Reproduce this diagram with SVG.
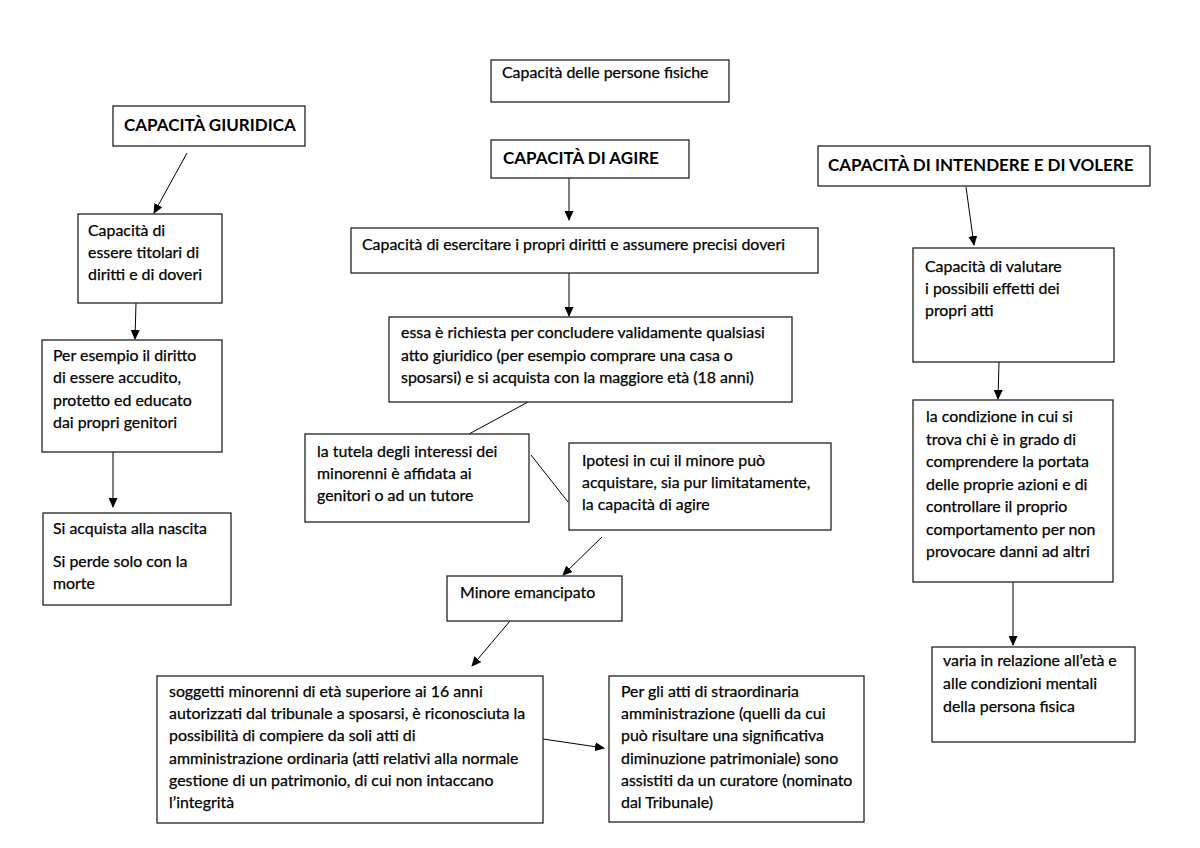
<svg xmlns="http://www.w3.org/2000/svg" width="1200" height="848" viewBox="0 0 1200 848">
<style>
.box{fill:#fff;stroke:#222;stroke-width:1.3}
.t{font-family:Lato,"Liberation Sans",sans-serif;font-size:15.9px;fill:#000;stroke:#000;stroke-width:0.25}
.h{font-family:Lato,"Liberation Sans",sans-serif;font-size:17px;font-weight:bold;fill:#000}
.c{stroke:#000;stroke-width:1;fill:none}
.a{marker-end:url(#ah)}
</style>
<defs>
<marker id="ah" markerWidth="10" markerHeight="9" refX="9" refY="4.5" orient="auto" markerUnits="userSpaceOnUse">
<path d="M0,0 L10,4.5 L0,9 z" fill="#000"/>
</marker>
</defs>
<rect width="1200" height="848" fill="#fff"/>
<g id="connectors">
<line class="c a" x1="187" y1="153" x2="154" y2="213"/>
<line class="c a" x1="136" y1="303" x2="135" y2="339"/>
<line class="c a" x1="113" y1="452" x2="113" y2="507"/>
<line class="c a" x1="569" y1="178" x2="569" y2="220"/>
<line class="c a" x1="569" y1="273" x2="569" y2="316"/>
<line class="c" x1="528" y1="402" x2="469" y2="434"/>
<line class="c" x1="531" y1="455" x2="568" y2="502"/>
<line class="c a" x1="602" y1="537" x2="563" y2="575"/>
<line class="c a" x1="510" y1="621" x2="472" y2="666"/>
<line class="c a" x1="543" y1="739" x2="604" y2="748"/>
<line class="c a" x1="966" y1="187" x2="974" y2="245"/>
<line class="c a" x1="999" y1="362" x2="998" y2="399"/>
<line class="c a" x1="1013" y1="582" x2="1013" y2="645"/>
</g>
<g id="n-persone">
<rect class="box" x="491" y="60" width="238" height="42"/>
<text class="t" x="502" y="78">Capacità delle persone fisiche</text>
</g>
<g id="n-giuridica">
<rect class="box" x="113" y="106" width="192" height="40"/>
<text class="h" x="124" y="131">CAPACITÀ GIURIDICA</text>
</g>
<g id="n-agire">
<rect class="box" x="491" y="140" width="198" height="38"/>
<text class="h" x="503" y="164">CAPACITÀ DI AGIRE</text>
</g>
<g id="n-intendere">
<rect class="box" x="818" y="146" width="332" height="40"/>
<text class="h" x="828" y="171">CAPACITÀ DI INTENDERE E DI VOLERE</text>
</g>
<g id="n-titolari">
<rect class="box" x="78" y="214" width="144" height="89"/>
<text class="t" x="88" y="236">Capacità di</text>
<text class="t" x="88" y="258">essere titolari di</text>
<text class="t" x="88" y="280">diritti e di doveri</text>
</g>
<g id="n-esempio">
<rect class="box" x="42" y="340" width="180" height="112"/>
<text class="t" x="53" y="361">Per esempio il diritto</text>
<text class="t" x="53" y="383">di essere accudito,</text>
<text class="t" x="53" y="406">protetto ed educato</text>
<text class="t" x="53" y="428">dai propri genitori</text>
</g>
<g id="n-nascita">
<rect class="box" x="43" y="513" width="188" height="92"/>
<text class="t" x="53" y="534">Si acquista alla nascita</text>
<text class="t" x="53" y="567">Si perde solo con la</text>
<text class="t" x="53" y="589">morte</text>
</g>
<g id="n-esercitare">
<rect class="box" x="351" y="228" width="467" height="45"/>
<text class="t" x="362" y="250">Capacità di esercitare i propri diritti e assumere precisi doveri</text>
</g>
<g id="n-essa">
<rect class="box" x="389" y="317" width="403" height="85"/>
<text class="t" x="401" y="338">essa è richiesta per concludere validamente qualsiasi</text>
<text class="t" x="401" y="361">atto giuridico (per esempio comprare una casa o</text>
<text class="t" x="401" y="383">sposarsi) e si acquista con la maggiore età (18 anni)</text>
</g>
<g id="n-tutela">
<rect class="box" x="305" y="434" width="224" height="88"/>
<text class="t" x="317" y="457">la tutela degli interessi dei</text>
<text class="t" x="317" y="479">minorenni è affidata ai</text>
<text class="t" x="317" y="501">genitori o ad un tutore</text>
</g>
<g id="n-ipotesi">
<rect class="box" x="569" y="443" width="262" height="87"/>
<text class="t" x="582" y="466">Ipotesi in cui il minore può</text>
<text class="t" x="582" y="488">acquistare, sia pur limitatamente,</text>
<text class="t" x="582" y="510">la capacità di agire</text>
</g>
<g id="n-minore">
<rect class="box" x="447" y="576" width="175" height="45"/>
<text class="t" x="460" y="598">Minore emancipato</text>
</g>
<g id="n-soggetti">
<rect class="box" x="157" y="676" width="386" height="147"/>
<text class="t" x="169" y="697">soggetti minorenni di età superiore ai 16 anni</text>
<text class="t" x="169" y="719">autorizzati dal tribunale a sposarsi, è riconosciuta la</text>
<text class="t" x="169" y="741">possibilità di compiere da soli atti di</text>
<text class="t" x="169" y="764">amministrazione ordinaria (atti relativi alla normale</text>
<text class="t" x="169" y="786">gestione di un patrimonio, di cui non intaccano</text>
<text class="t" x="169" y="808">l’integrità</text>
</g>
<g id="n-straordinaria">
<rect class="box" x="609" y="676" width="255" height="146"/>
<text class="t" x="621" y="697">Per gli atti di straordinaria</text>
<text class="t" x="621" y="719">amministrazione (quelli da cui</text>
<text class="t" x="621" y="741">può risultare una significativa</text>
<text class="t" x="621" y="764">diminuzione patrimoniale) sono</text>
<text class="t" x="621" y="786">assistiti da un curatore (nominato</text>
<text class="t" x="621" y="808">dal Tribunale)</text>
</g>
<g id="n-valutare">
<rect class="box" x="913" y="248" width="201" height="114"/>
<text class="t" x="925" y="272">Capacità di valutare</text>
<text class="t" x="925" y="294">i possibili effetti dei</text>
<text class="t" x="925" y="316">propri atti</text>
</g>
<g id="n-condizione">
<rect class="box" x="913" y="400" width="200" height="182"/>
<text class="t" x="926" y="422">la condizione in cui si</text>
<text class="t" x="926" y="445">trova chi è in grado di</text>
<text class="t" x="926" y="467">comprendere la portata</text>
<text class="t" x="926" y="490">delle proprie azioni e di</text>
<text class="t" x="926" y="512">controllare il proprio</text>
<text class="t" x="926" y="535">comportamento per non</text>
<text class="t" x="926" y="557">provocare danni ad altri</text>
</g>
<g id="n-varia">
<rect class="box" x="932" y="647" width="203" height="95"/>
<text class="t" x="943" y="666">varia in relazione all’età e</text>
<text class="t" x="943" y="689">alle condizioni mentali</text>
<text class="t" x="943" y="712">della persona fisica</text>
</g>
</svg>
